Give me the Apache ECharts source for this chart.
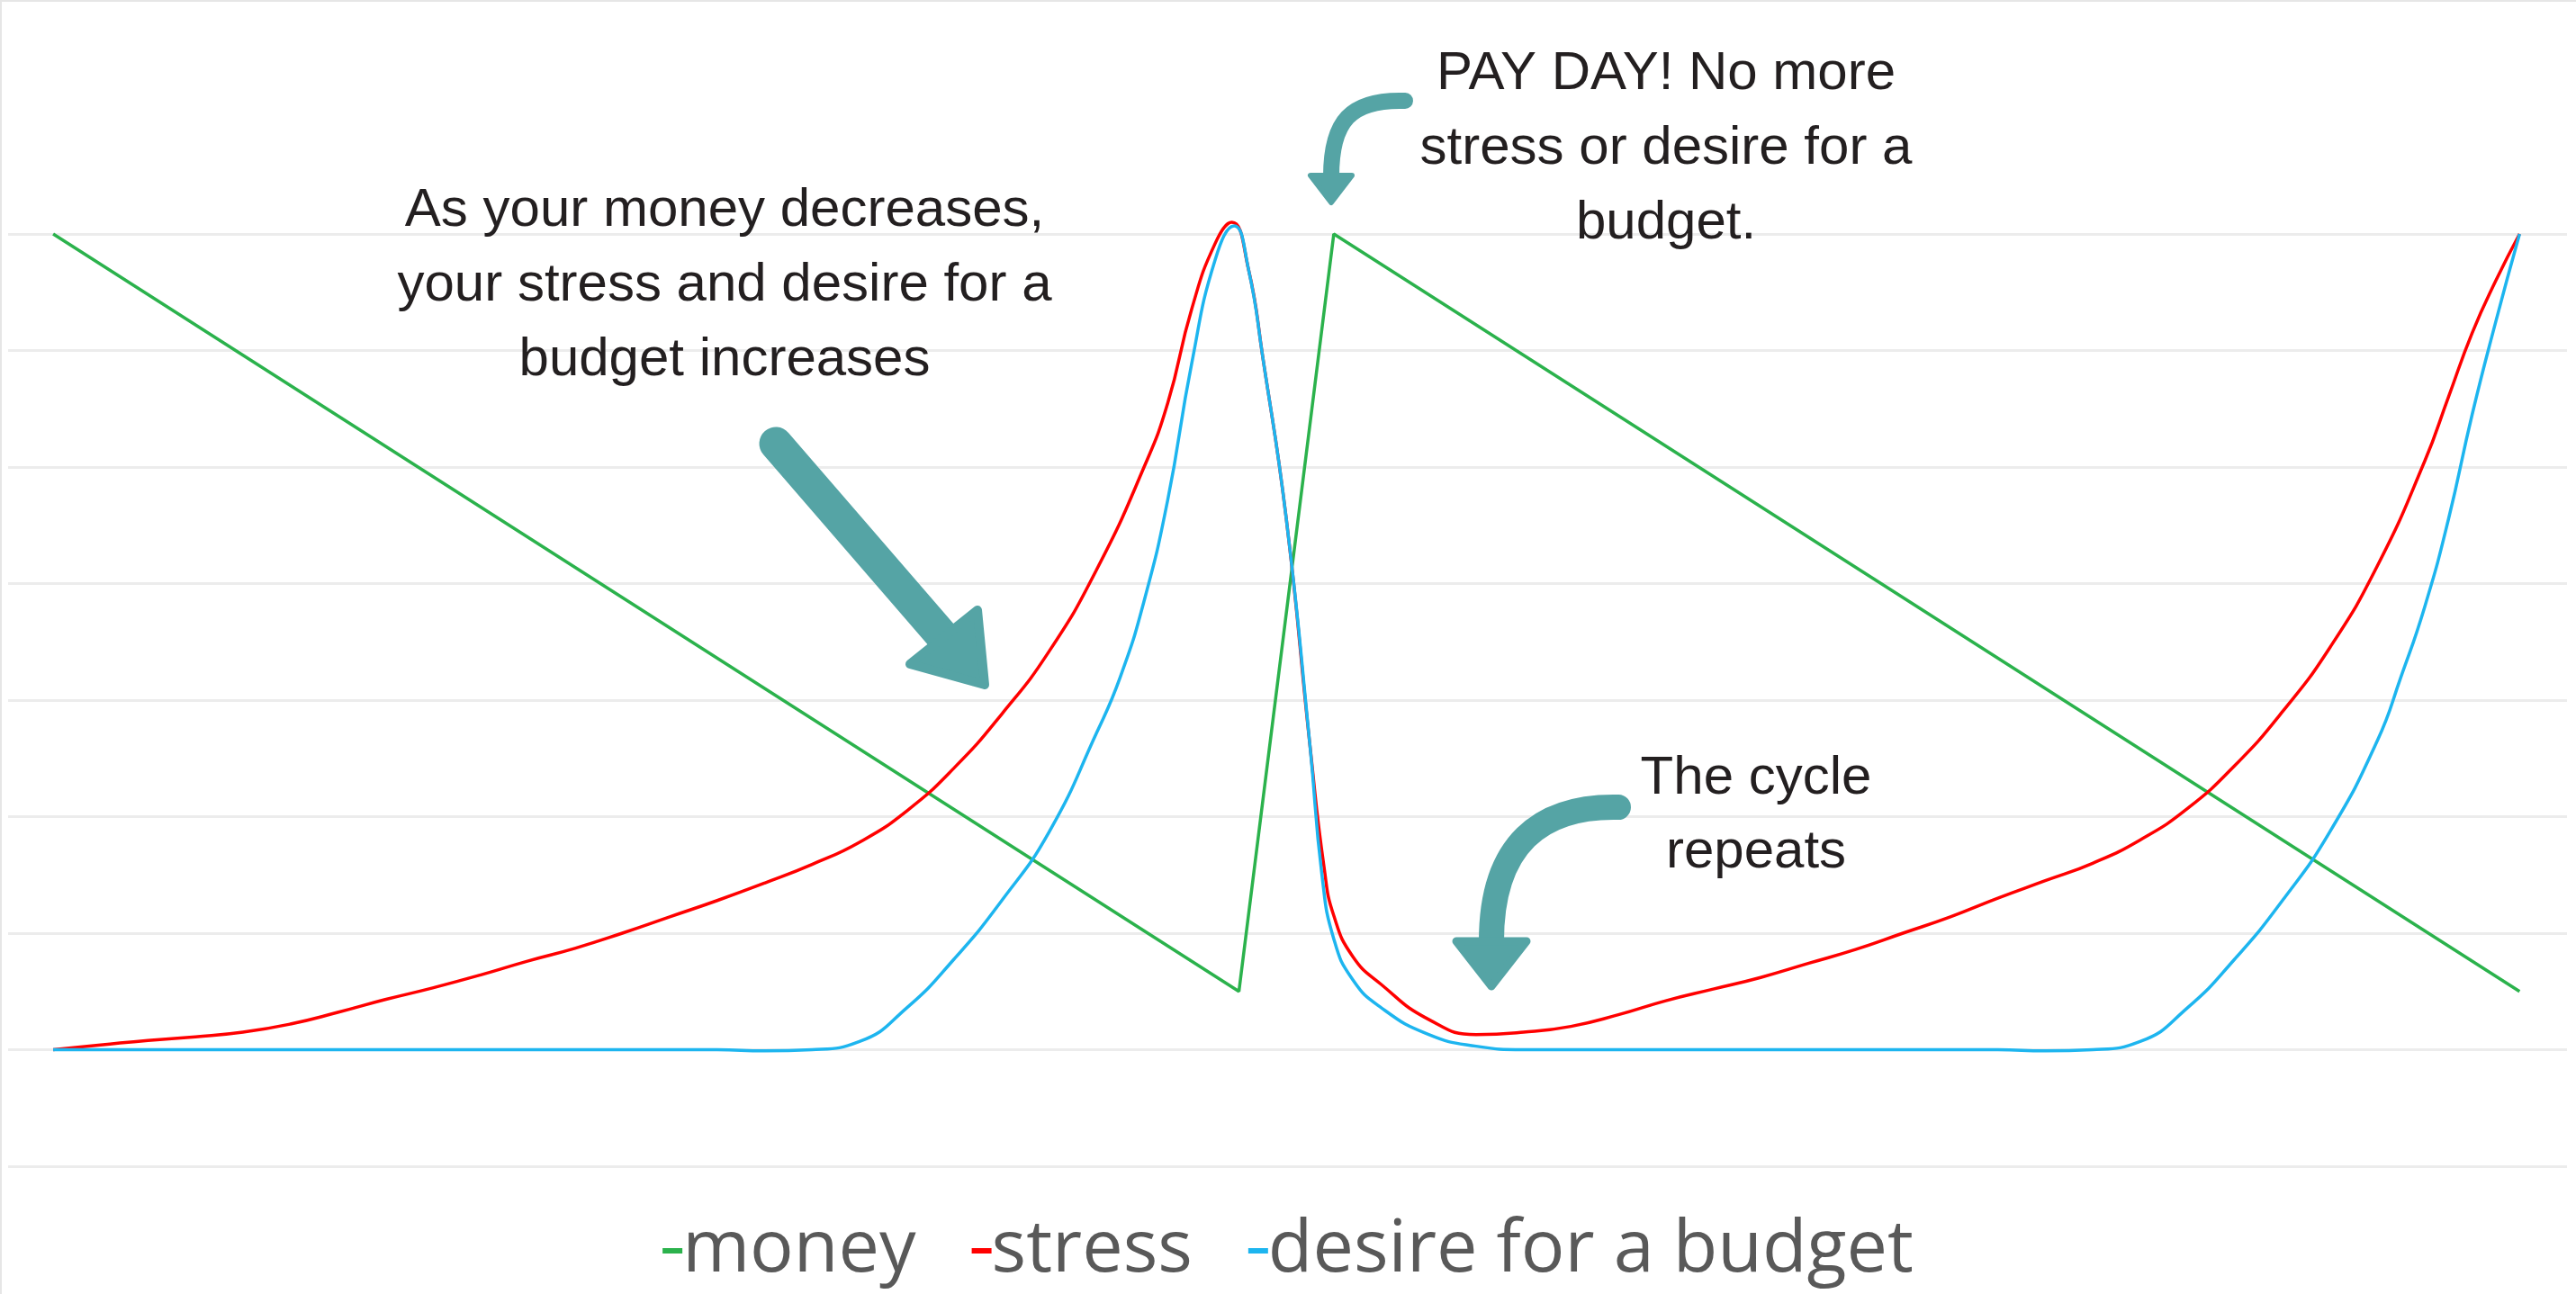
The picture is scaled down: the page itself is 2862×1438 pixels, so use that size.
<!DOCTYPE html>
<html>
<head>
<meta charset="utf-8">
<title>money / stress / desire for a budget</title>
<script src="https://cdn.jsdelivr.net/npm/echarts@6/dist/echarts.min.js"></script>
<style>
	html,body{margin:0;padding:0;background:#fff;}
	#chart{width:2862px;height:1438px;}
</style>
</head>
<body>
<div id="chart"></div>
<script>
// 数据 (x = 天, 0..52; 发薪日在 25~27)
var moneyDays = [0, 25, 27, 52];
var money = [8, 1.5, 8, 1.5];

var stressDays = [0, 1, 2, 3, 4, 5, 6, 7, 8, 9,
	10, 11, 12, 13, 14, 15, 16, 17, 18, 19,
	20, 21, 22, 23, 23.5, 24, 24.5, 24.85, 25.2, 25.5,
	26, 26.5, 26.8, 27, 27.4, 28, 29, 30, 31,
	32, 33, 34, 35, 36, 37, 38, 39, 40, 41,
	42, 43, 44, 45, 46, 47, 48, 49, 50, 50.5,
	51, 51.5, 52];
var stress = [1.0, 1.04, 1.08, 1.11, 1.15, 1.22, 1.32, 1.43, 1.53, 1.64,
	1.76, 1.87, 2.0, 2.14, 2.28, 2.43, 2.59, 2.78, 3.05, 3.42,
	3.88, 4.42, 5.12, 6.0, 6.55, 7.35, 7.92, 8.1, 7.7, 6.95,
	5.55, 3.6, 2.55, 2.15, 1.8, 1.56, 1.26, 1.13, 1.15,
	1.2, 1.3, 1.42, 1.52, 1.62, 1.74, 1.86, 2.0, 2.14, 2.3,
	2.45, 2.6, 2.8, 3.07, 3.44, 3.9, 4.45, 5.15, 6.05, 6.6,
	7.15, 7.6, 8.0];

var desireDays = [0, 1, 2, 3, 4, 5, 6, 7, 8, 9,
	10, 11, 12, 13, 14, 15, 16, 17, 18, 19,
	20, 21, 22, 22.5, 23, 23.5, 24, 24.5, 24.9, 25.2,
	25.5, 26, 26.5, 26.75, 27, 27.4, 28, 29, 30,
	31, 32, 33, 34, 35, 36, 37, 38, 39, 40,
	41, 42, 43, 44, 45, 46, 47, 48, 49, 49.5,
	50, 50.5, 51, 51.5, 52];
var desire = [1.0, 1.0, 1.0, 1.0, 1.0, 1.0, 1.0, 1.0, 1.0, 1.0,
	1.0, 1.0, 1.0, 1.0, 1.0, 0.99, 1.0, 1.07, 1.36, 1.78,
	2.28, 2.87, 3.72, 4.2, 4.85, 5.72, 6.88, 7.78, 8.07, 7.7,
	6.95, 5.55, 3.6, 2.5, 1.95, 1.6, 1.36, 1.13, 1.03,
	1.0, 1.0, 1.0, 1.0, 1.0, 1.0, 1.0, 1.0, 1.0, 1.0,
	1.0, 0.99, 1.0, 1.07, 1.36, 1.78, 2.28, 2.87, 3.65, 4.2,
	4.8, 5.55, 6.45, 7.25, 8.0];

var seriesNames = ['money', 'stress', 'desire for a budget'];
var colors = ['#2bb24c', '#ff0000', '#1db5ef'];

var teal = '#55a4a5';
var noteFont = '"Liberation Sans", Arial, sans-serif';

function pairs(xs, ys){
	var out = [];
	for (var i = 0; i < ys.length; i++) {
		out.push([xs[i], ys[i]]);
	}
	return out;
}

var chart = echarts.init(document.getElementById('chart'));

var option = {
	backgroundColor: '#fff',
	animation: false,
	color: colors,
	grid: {
		left: 9,
		right: 10,
		top: 260,
		bottom: 142
	},
	xAxis: {
		type: 'value',
		min: -0.95,
		max: 53,
		show: false
	},
	yAxis: {
		type: 'value',
		min: 0,
		max: 8,
		interval: 1,
		axisLine: {show: false},
		axisTick: {show: false},
		axisLabel: {show: false},
		splitLine: {lineStyle: {color: '#ececec', width: 3}}
	},
	legend: {
		data: seriesNames,
		left: 'center',
		top: 1335,
		icon: 'rect',
		itemWidth: 22,
		itemHeight: 6,
		itemGap: 62,
		textStyle: {
			fontFamily: '"Open Sans", sans-serif',
			fontSize: 81,
			lineHeight: 100,
			color: '#595959',
			padding: [0, 0, 0, -5]
		}
	},
	series: [
		{
			name: seriesNames[0],
			type: 'line',
			data: pairs(moneyDays, money),
			symbol: 'none',
			clip: false,
			lineStyle: {width: 3.5}
		},
		{
			name: seriesNames[1],
			type: 'line',
			data: pairs(stressDays, stress),
			smooth: 0.5,
			symbol: 'none',
			clip: false,
			lineStyle: {width: 3.5}
		},
		{
			name: seriesNames[2],
			type: 'line',
			data: pairs(desireDays, desire),
			smooth: 0.5,
			symbol: 'none',
			clip: false,
			lineStyle: {width: 3.5}
		}
	],
	graphic: [
		// 边框
		{type: 'line', z: 50, shape: {x1: 0, y1: 1, x2: 2862, y2: 1}, style: {stroke: '#e6e6e6', lineWidth: 2}},
		{type: 'line', z: 50, shape: {x1: 1, y1: 0, x2: 1, y2: 1438}, style: {stroke: '#e6e6e6', lineWidth: 2}},

		// 注释文字
		{
			type: 'text', z: 50, x: 805, y: 317,
			style: {
				text: 'As your money decreases,\nyour stress and desire for a\nbudget increases',
				fontSize: 60, fontFamily: noteFont, fill: '#231f20',
				align: 'center', verticalAlign: 'middle', lineHeight: 83
			}
		},
		{
			type: 'text', z: 50, x: 1851, y: 165,
			style: {
				text: 'PAY DAY! No more\nstress or desire for a\nbudget.',
				fontSize: 60, fontFamily: noteFont, fill: '#231f20',
				align: 'center', verticalAlign: 'middle', lineHeight: 83
			}
		},
		{
			type: 'text', z: 50, x: 1951, y: 906,
			style: {
				text: 'The cycle\nrepeats',
				fontSize: 60, fontFamily: noteFont, fill: '#231f20',
				align: 'center', verticalAlign: 'middle', lineHeight: 82
			}
		},

		// 箭头1 (直)
		{
			type: 'polyline', z: 50,
			shape: {points: [[862, 493], [1047, 707]]},
			style: {stroke: teal, lineWidth: 37, lineCap: 'round', fill: null}
		},
		{
			type: 'polygon', z: 50,
			shape: {points: [[1011, 738], [1086, 678], [1094, 761]]},
			style: {fill: teal, stroke: teal, lineWidth: 10, lineJoin: 'round'}
		},

		// 箭头2 (pay day)
		{
			type: 'bezierCurve', z: 50,
			shape: {x1: 1561, y1: 112, cpx1: 1500, cpy1: 110, cpx2: 1479, cpy2: 135, x2: 1479, y2: 196},
			style: {stroke: teal, lineWidth: 18, lineCap: 'round', fill: null}
		},
		{
			type: 'polygon', z: 50,
			shape: {points: [[1456, 195], [1502, 195], [1479, 225]]},
			style: {fill: teal, stroke: teal, lineWidth: 6, lineJoin: 'round'}
		},

		// 箭头3 (cycle)
		{
			type: 'bezierCurve', z: 50,
			shape: {x1: 1798, y1: 897, cpx1: 1712, cpy1: 895, cpx2: 1657, cpy2: 938, x2: 1657, y2: 1046},
			style: {stroke: teal, lineWidth: 28, lineCap: 'round', fill: null}
		},
		{
			type: 'polygon', z: 50,
			shape: {points: [[1618, 1046], [1696, 1046], [1657, 1096]]},
			style: {fill: teal, stroke: teal, lineWidth: 9, lineJoin: 'round'}
		}
	]
};

chart.setOption(option);
</script>
</body>
</html>
